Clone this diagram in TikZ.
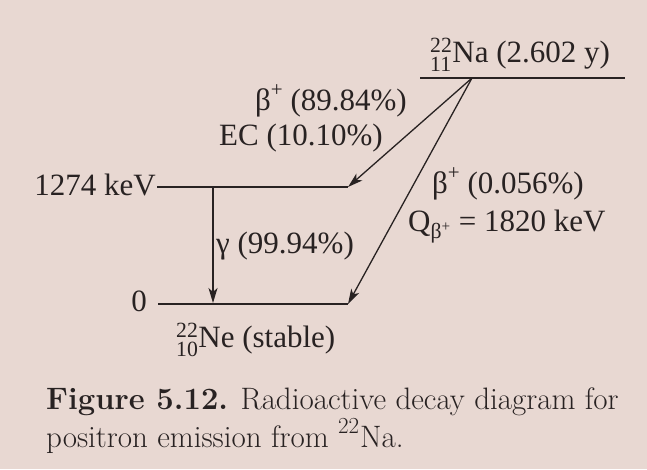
\documentclass[tikz,border=0pt]{standalone}
\usepackage{amsmath}
\usepackage{fontspec}
\newfontfamily\bookfont{Liberation Serif}
\usepackage{tikz}
\usetikzlibrary{arrows.meta}
\definecolor{paper}{RGB}{232,216,210}
\definecolor{ink}{RGB}{40,34,34}
\newcommand{\nuc}[3]{$^{\text{#1}}_{\text{#2}}$#3}
\newcommand{\pos}{\raisebox{0.42em}{\fontsize{21}{21}\selectfont+}}
\newcommand{\labelfont}{\bookfont\fontsize{31}{34}\selectfont}
\newcommand{\capfont}{\fontsize{31}{31}\selectfont}

\begin{document}
\begin{tikzpicture}[x=1pt,y=-1pt,
    level/.style={ink,line width=2.6pt},
    decay/.style={ink,line width=1.3pt,-{Stealth[length=15pt,width=9pt,inset=4pt]}},
    lbl/.style={ink,font=\labelfont,inner sep=0pt,anchor=base west},
    captext/.style={ink,font=\capfont,inner sep=0pt,anchor=base west}]
    \fill[paper] (0,0) rectangle (647,469);
    % levels
    \coordinate (NaL) at (420,78); \coordinate (NaR) at (625,78);
    \coordinate (P) at (472,78);
    \coordinate (EL) at (157,187); \coordinate (ER) at (348,187);
    \coordinate (GL) at (158,304); \coordinate (GR) at (348,304);
    \coordinate (T) at (213,187); \coordinate (S) at (213,303);
    \draw[level] (NaL) -- (NaR);
    \draw[level,line width=1.8pt] (EL) -- (ER);
    \draw[level] (GL) -- (GR);
    % transitions
    \draw[decay] (P) -- (ER);
    \draw[decay] (P) -- (GR);
    \draw[decay,line width=1.2pt] (T) -- (S);
    % labels
    \node[lbl] (na) at (430,62) {\nuc{22}{11}{Na} (2.602 y)};
    \node[lbl] (b1) at (255,110) {β\pos{} (89.84\%)};
    \node[lbl] (ec) at (219,145) {EC (10.10\%)};
    \node[lbl] (b2) at (432,193) {β\pos{} (0.056\%)};
    \node[lbl] (q) at (408,231) {Q\textsubscript{β\textsuperscript{+}} = 1820 keV};
    \node[lbl] (g) at (216,253) {γ (99.94\%)};
    \node[lbl,anchor=base east] (e1) at (156,195) {1274 keV};
    \node[lbl,anchor=base east] (e0) at (147,311) {0};
    \node[lbl] (ne) at (176,347) {\nuc{22}{10}{Ne} (stable)};
    % caption
    \node[captext] (c1) at (46,409)
        {\textbf{Figure 5.12.} Radioactive decay diagram for};
    \node[captext] (c2) at (46,447)
        {positron emission from \raisebox{0.45em}{\fontsize{23}{23}\selectfont 22}\kern1pt Na.};
\end{tikzpicture}
\end{document}
